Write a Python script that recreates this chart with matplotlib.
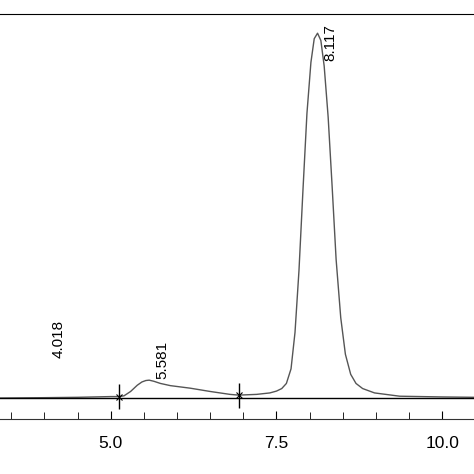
import matplotlib.pyplot as plt
from matplotlib.ticker import MultipleLocator

plt.rcParams['font.family'] = ['Liberation Sans', 'DejaVu Sans']

# retention time (min) and detector signal (relative)
time = [3.33, 4.0, 4.5, 5.0, 5.12, 5.2, 5.3, 5.4, 5.47, 5.53, 5.58, 5.65, 5.75, 5.9, 6.2, 6.5, 6.8, 6.93,
        7.2, 7.4, 7.5, 7.58, 7.65, 7.72, 7.78, 7.84, 7.90, 7.96, 8.02, 8.07, 8.12, 8.17, 8.22, 8.28, 8.34,
        8.40, 8.47, 8.54, 8.62, 8.70, 8.80, 8.98, 9.36, 10.0, 10.48]
signal = [0.0, 0.1, 0.2, 0.4, 0.4, 0.6, 1.8, 3.5, 4.4, 4.8, 4.9, 4.6, 4.0, 3.4, 2.7, 1.8, 1.0, 0.8,
          1.0, 1.4, 1.9, 2.6, 4.0, 8.0, 18, 35, 57, 78, 92, 98.5, 100, 98, 91, 77, 58,
          38, 22, 12, 6.5, 4.0, 2.6, 1.4, 0.5, 0.3, 0.2]
cuts = [5.12, 6.93]
cut_levels = [0.4, 0.8]
peak_labels = ["4.018", "5.581", "8.117"]
label_pos = [(4.018, 11.0), (5.581, 5.2), (8.117, 92.5)]

fig = plt.figure(figsize=(4.74, 4.74), dpi=100)
ax = fig.add_axes([0, 0.116, 1, 0.854])
ax.plot(time, signal, color='#555555', lw=1)
ax.axhline(0, color='black', lw=1)
for c, lv in zip(cuts, cut_levels):
    ax.vlines(c, lv - 3.4, lv + 3.4, color='black', lw=1)
    ax.plot(c, lv, marker='x', color='black', ms=5, mew=0.8)
for t, (x, y) in zip(peak_labels, label_pos):
    ax.text(x + 0.2, y, t, rotation=90, ha='center', va='bottom', fontsize=11)

ax.set_xlim(3.33, 10.48)
ax.set_ylim(-5.75, 105.2)
for s in ['left', 'right']:
    ax.spines[s].set_visible(False)
ax.spines['bottom'].set_color('#333333')
ax.set_yticks([])
ax.xaxis.set_major_locator(MultipleLocator(2.5))
ax.xaxis.set_minor_locator(MultipleLocator(0.5))
ax.tick_params(axis='x', which='both', direction='in', labelsize=12.5, pad=12)
ax.tick_params(axis='x', which='major', length=6)
ax.tick_params(axis='x', which='minor', length=5)
ax.xaxis.set_major_formatter(plt.FormatStrFormatter('%.1f'))
fig.savefig('out.png')
